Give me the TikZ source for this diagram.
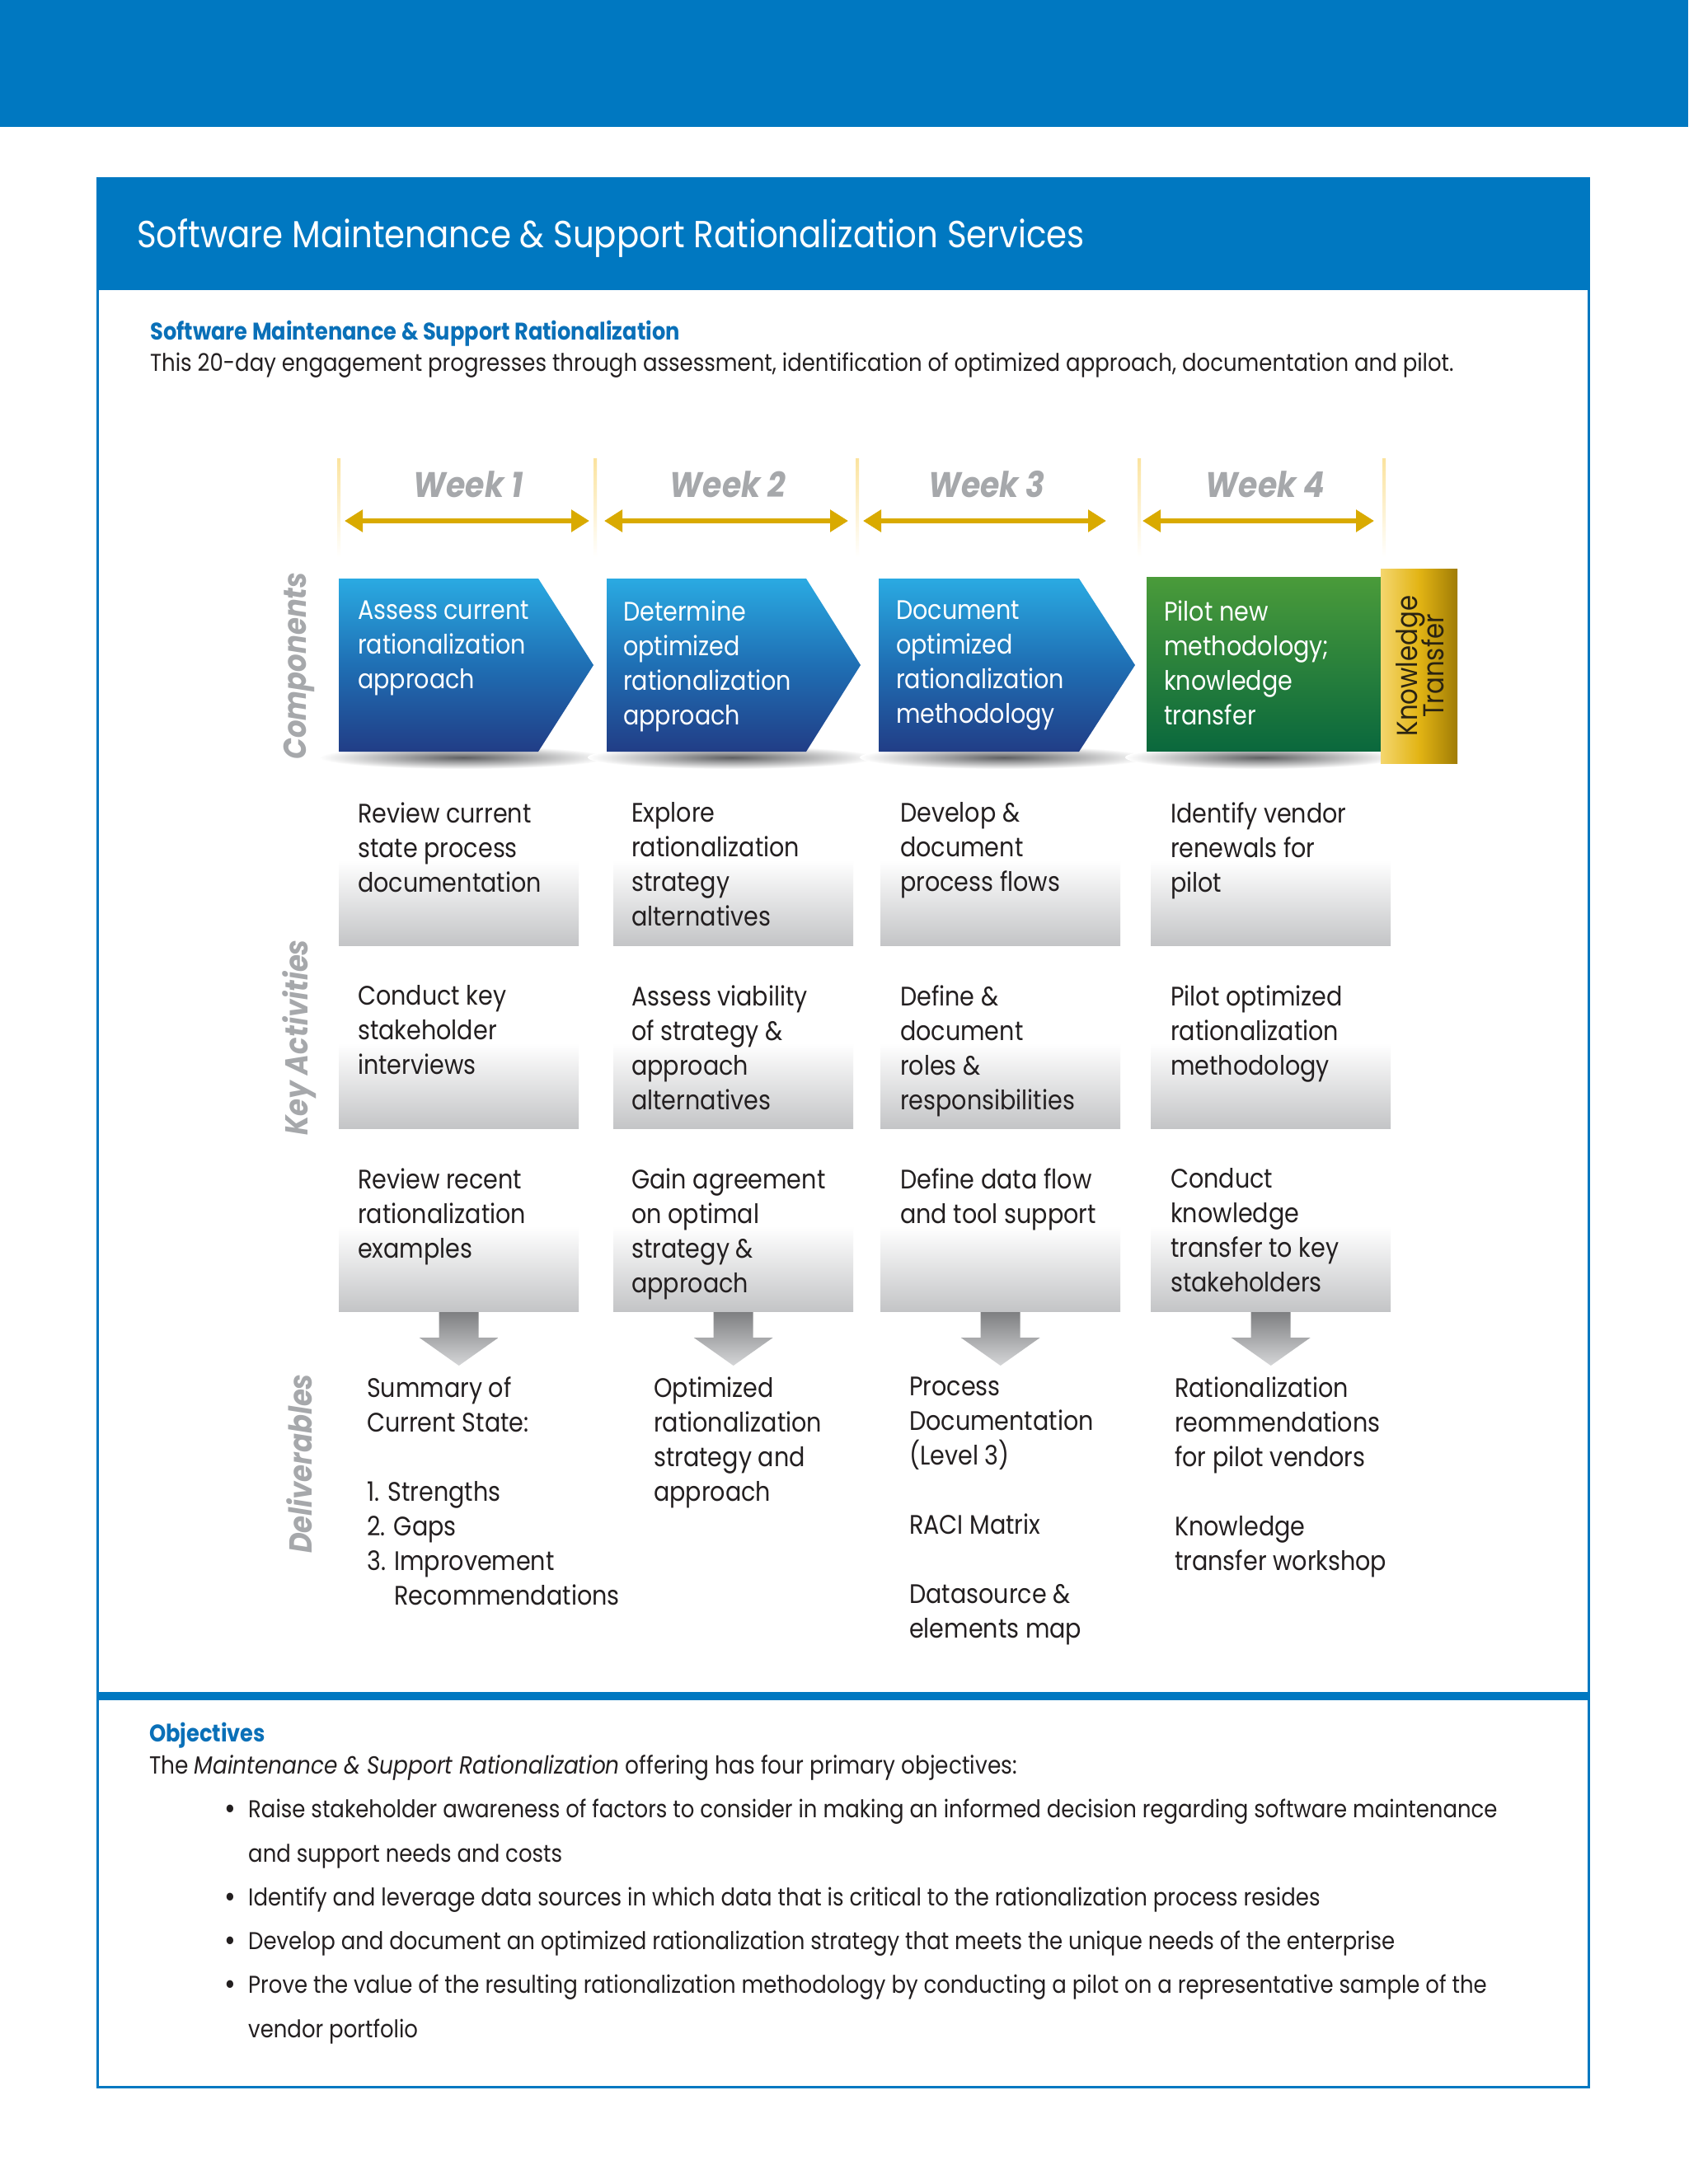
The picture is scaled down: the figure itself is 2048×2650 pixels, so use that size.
\documentclass[tikz,border=0pt]{standalone}
\usepackage{fontspec}
\setmainfont{Poppins}[FakeStretch=0.88]
\usepackage{tikz}
\usetikzlibrary{arrows.meta, positioning, calc}
\definecolor{BandBlue}{HTML}{0078C1}
\definecolor{HeadBlue}{HTML}{0A70B8}
\definecolor{Ink}{HTML}{231F20}
\definecolor{LabelGray}{HTML}{A6A8AB}
\definecolor{WeekGold}{HTML}{D9AA00}
\definecolor{WeekLine}{HTML}{FBE39E}
\definecolor{CompTop}{HTML}{2AAAE2}
\definecolor{CompMid}{HTML}{1F6FB4}
\definecolor{CompBot}{HTML}{213D86}
\definecolor{PilotTop}{HTML}{4A9B3A}
\definecolor{PilotBot}{HTML}{0A683D}
\definecolor{GoldL}{HTML}{F4D66E}
\definecolor{GoldM}{HTML}{E2B414}
\definecolor{GoldR}{HTML}{A07C05}
\definecolor{KtInk}{HTML}{2A2312}
\definecolor{ActGray}{HTML}{C3C4C6}
\definecolor{ArrowDark}{HTML}{7E7F81}
\definecolor{ArrowLight}{HTML}{D5D6D8}
\definecolor{ShadowGray}{HTML}{5E5F61}

\begin{document}
\begin{tikzpicture}[
    x=1pt, y=-1pt,
    body/.style={
      font=\fontsize{32.5}{42}\selectfont,
      text=Ink,
      align=left,
      inner sep=0pt,
      anchor=north west,
    },
    comptext/.style={body, text=white},
    sidelabel/.style={
      font=\fontsize{38.5}{44}\selectfont\bfseries\itshape,
      text=LabelGray,
      rotate=90,
      inner sep=0pt,
    },
    weeklabel/.style={
      font=\fontsize{43}{50}\selectfont\bfseries\itshape,
      text=LabelGray,
      anchor=base,
      inner sep=0pt,
    },
    weekarrow/.style={
      draw=WeekGold,
      line width=6pt,
      {Triangle[length=22pt,width=26pt]}-{Triangle[length=22pt,width=26pt]},
    },
    weekline/.style={top color=WeekLine, middle color=WeekLine, bottom color=white},
    comp/.style={top color=CompTop, bottom color=CompBot, middle color=CompMid},
    actbox/.style={
      minimum width=291pt,
      minimum height=208pt,
      inner sep=0pt,
      anchor=south west,
      top color=white,
      bottom color=ActGray,
      middle color=white,
    },
    grayarrow/.style={top color=ArrowDark, bottom color=ArrowLight},
    shadow/.style={inner color=ShadowGray, outer color=white},
    objtext/.style={
      font=\fontsize{29.5}{53.5}\selectfont,
      text=Ink,
      align=left,
      inner sep=0pt,
      anchor=north west,
    },
    objdot/.style={
      font=\fontsize{38}{40}\selectfont,
      text=Ink,
      anchor=base,
      inner sep=0pt,
    },
  ]
  \useasboundingbox (0,0) rectangle (2048,2650);
  \fill[white] (0,0) rectangle (2048,2650);

  % page band, frame, title
  \fill[BandBlue] (0,0) rectangle (2048,154);
  \fill[BandBlue] (118,216) rectangle (1927,352);
  \draw[BandBlue, line width=3pt] (118,216) rectangle (1927,2532);
  \fill[BandBlue] (118,2053) rectangle (1927,2063);
  \node[anchor=base west, inner sep=0pt, text=white,
    font=\fontsize{45.8}{56}\selectfont] (title) at (166,300)
    {Software Maintenance \& Support Rationalization Services};
  \node[anchor=base west, inner sep=0pt, text=HeadBlue,
    font=\fontsize{29.2}{36}\selectfont\bfseries] (subtitle) at (182,412)
    {Software Maintenance \& Support Rationalization};
  \node[anchor=base west, inner sep=0pt, text=Ink,
    font=\fontsize{29.5}{36}\selectfont] (intro) at (182,450)
    {This 20-day engagement progresses through assessment, identification of optimized approach, documentation and pilot.};

  % weeks
  \shade[weekline] (409,556) rectangle (413,676);
  \shade[weekline] (720,556) rectangle (724,676);
  \shade[weekline] (1038,556) rectangle (1042,676);
  \shade[weekline] (1380,556) rectangle (1384,676);
  \shade[weekline] (1677,556) rectangle (1681,676);
  \node[weeklabel] (week1) at (568,603) {Week 1};
  \node[weeklabel] (week2) at (883,603) {Week 2};
  \node[weeklabel] (week3) at (1197,603) {Week 3};
  \node[weeklabel] (week4) at (1535,603) {Week 4};
  \coordinate (w1a) at (418,632);  \coordinate (w1b) at (715,632);
  \coordinate (w2a) at (733,632);  \coordinate (w2b) at (1029,632);
  \coordinate (w3a) at (1047,632); \coordinate (w3b) at (1342,632);
  \coordinate (w4a) at (1386,632); \coordinate (w4b) at (1667,632);
  \draw[weekarrow] (w1a) -- (w1b);
  \draw[weekarrow] (w2a) -- (w2b);
  \draw[weekarrow] (w3a) -- (w3b);
  \draw[weekarrow] (w4a) -- (w4b);

  % side labels
  \node[sidelabel] (lcomp) at (363,808) {Components};
  \node[sidelabel] (lact) at (363,1259) {Key Activities};
  \node[sidelabel] (ldel) at (363,1776) {Deliverables};

  % components
  \shade[shadow] (562,919) ellipse [x radius=175pt, y radius=14pt];
  \shade[shadow] (888,919) ellipse [x radius=175pt, y radius=14pt];
  \shade[shadow] (1218,919) ellipse [x radius=175pt, y radius=14pt];
  \shade[shadow] (1530,919) ellipse [x radius=165pt, y radius=14pt];
  \shade[comp] (411,702) -- (653,702) -- (720,807) -- (653,912) -- (411,912) -- cycle;
  \shade[comp] (736,702) -- (978,702) -- (1044,807) -- (978,912) -- (736,912) -- cycle;
  \shade[comp] (1066,702) -- (1309,702) -- (1377,807) -- (1309,912) -- (1066,912) -- cycle;
  \shade[top color=PilotTop, bottom color=PilotBot] (1391,700) rectangle (1676,911);
  \node[minimum width=93pt, minimum height=236pt, inner sep=0pt,
    left color=GoldL, right color=GoldR, middle color=GoldM] (kt) at (1721.5,808) {};
  \node[rotate=90, align=center, inner sep=0pt, text=KtInk,
    font={\fontsize{35}{32}\selectfont\lineskiplimit=-40pt\relax}] (ktlabel) at ([xshift=1pt]kt.center)
    {Knowledge\\Transfer};
  \node[comptext] (c1) at (434,728.5) {Assess current\\rationalization\\approach};
  \node[comptext] (c2) at (756,728.5) {Determine\\optimized\\rationalization\\approach};
  \node[comptext] (c3) at (1087,728.5) {Document\\optimized\\rationalization\\methodology};
  \node[comptext] (c4) at (1412,728.5) {Pilot new\\methodology;\\knowledge\\transfer};

  % key activities
  \node[actbox] (a11) at (411,1148) {};
  \node[actbox] (a12) at (744,1148) {};
  \node[actbox] (a13) at (1068,1148) {};
  \node[actbox] (a14) at (1396,1148) {};
  \node[actbox] (a21) at (411,1370) {};
  \node[actbox] (a22) at (744,1370) {};
  \node[actbox] (a23) at (1068,1370) {};
  \node[actbox] (a24) at (1396,1370) {};
  \node[actbox] (a31) at (411,1592) {};
  \node[actbox] (a32) at (744,1592) {};
  \node[actbox] (a33) at (1068,1592) {};
  \node[actbox] (a34) at (1396,1592) {};
  \node[body] (t11) at (434,973.5) {Review current\\state process\\documentation};
  \node[body] (t12) at (766,973.5) {Explore\\rationalization\\strategy\\alternatives};
  \node[body] (t13) at (1092,973.5) {Develop \&\\document\\process flows};
  \node[body] (t14) at (1420,973.5) {Identify vendor\\renewals for\\pilot};
  \node[body] (t21) at (434,1195.5) {Conduct key\\stakeholder\\interviews};
  \node[body] (t22) at (766,1195.5) {Assess viability\\of strategy \&\\approach\\alternatives};
  \node[body] (t23) at (1092,1195.5) {Define \&\\document\\roles \&\\responsibilities};
  \node[body] (t24) at (1420,1195.5) {Pilot optimized\\rationalization\\methodology};
  \node[body] (t31) at (434,1417.5) {Review recent\\rationalization\\examples};
  \node[body] (t32) at (766,1417.5) {Gain agreement\\on optimal\\strategy \&\\approach};
  \node[body] (t33) at (1092,1417.5) {Define data flow\\and tool support};
  \node[body] (t34) at (1420,1417.5) {Conduct\\knowledge\\transfer to key\\stakeholders};

  % block arrows down to deliverables
  \shade[grayarrow, shift={(a31.south)}] (-24,0) -- (24,0) -- (24,31) -- (48,31) -- (0,65) -- (-48,31) -- (-24,31) -- cycle;
  \shade[grayarrow, shift={(a32.south)}] (-24,0) -- (24,0) -- (24,31) -- (48,31) -- (0,65) -- (-48,31) -- (-24,31) -- cycle;
  \shade[grayarrow, shift={(a33.south)}] (-24,0) -- (24,0) -- (24,31) -- (48,31) -- (0,65) -- (-48,31) -- (-24,31) -- cycle;
  \shade[grayarrow, shift={(a34.south)}] (-24,0) -- (24,0) -- (24,31) -- (48,31) -- (0,65) -- (-48,31) -- (-24,31) -- cycle;

  % deliverables
  \node[body] (d1) at (445,1670.5) {Summary of\\Current State:\\[42pt]1. Strengths\\2. Gaps\\3. Improvement\\\phantom{3. }Recommendations};
  \node[body] (d2) at (793,1670.5) {Optimized\\rationalization\\strategy and\\approach};
  \node[body] (d3) at (1103,1670.5) {Process\\Documentation\\(Level 3)\\[42pt]RACI Matrix\\[42pt]Datasource \&\\elements map};
  \node[body] (d4) at (1425,1670.5) {Rationalization\\reommendations\\for pilot vendors\\[42pt]Knowledge\\transfer workshop};

  % objectives
  \node[anchor=base west, inner sep=0pt, text=HeadBlue,
    font=\fontsize{29.2}{36}\selectfont\bfseries] (objhead) at (181,2113) {Objectives};
  \node[anchor=base west, inner sep=0pt, text=Ink,
    font=\fontsize{30}{36}\selectfont] (objintro) at (181,2152)
    {The \textit{Maintenance \& Support Rationalization} offering has four primary objectives:};
  \node[objdot] (b1) at (279,2207) {•};
  \node[objdot] (b2) at (279,2314) {•};
  \node[objdot] (b3) at (279,2367) {•};
  \node[objdot] (b4) at (279,2420) {•};
  \node[objtext] (o1) at (301,2183) {Raise stakeholder awareness of factors to consider in making an informed decision regarding software maintenance\\and support needs and costs};
  \node[objtext] (o2) at (301,2290) {Identify and leverage data sources in which data that is critical to the rationalization process resides};
  \node[objtext] (o3) at (301,2343) {Develop and document an optimized rationalization strategy that meets the unique needs of the enterprise};
  \node[objtext] (o4) at (301,2396) {Prove the value of the resulting rationalization methodology by conducting a pilot on a representative sample of the\\vendor portfolio};
\end{tikzpicture}
\end{document}
